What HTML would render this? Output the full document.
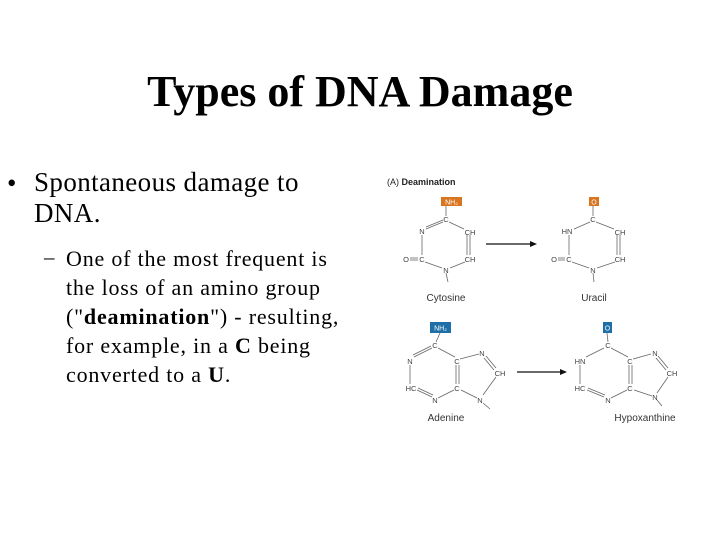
<!DOCTYPE html>
<html><head><style>
body{margin:0;width:720px;height:540px;background:#fff;position:relative;overflow:hidden;font-family:"Liberation Serif",serif;}
.t{position:absolute;white-space:nowrap;color:#000;}
</style></head><body>
<div class="t" style="left:0;width:720px;text-align:center;top:66px;font-size:44px;font-weight:bold;">Types of DNA Damage</div>
<div class="t" style="left:7px;top:168px;font-size:27px;">•</div>
<div class="t" style="left:34px;top:167px;font-size:27px;line-height:31px;letter-spacing:0.4px;">Spontaneous damage to<br>DNA.</div>
<div class="t" style="left:44px;top:245px;font-size:21px;">–</div>
<div class="t" style="left:66px;top:244px;font-size:22px;line-height:29px;letter-spacing:0.8px;">One of the most frequent is<br>the loss of an amino group<br>("<b>deamination</b>") - resulting,<br>for example, in a <b>C</b> being<br>converted to a <b>U</b>.</div>
<svg style="position:absolute;left:0;top:0" width="720" height="540" font-family="Liberation Sans,sans-serif" font-size="8" fill="#444">
<text x="387" y="185" font-size="9" fill="#222">(A) <tspan font-weight="bold">Deamination</tspan></text>
<g stroke="#666" stroke-width="0.8" fill="none">
<line x1="446" y1="206" x2="446" y2="216"/>
<line x1="443" y1="222" x2="426" y2="229"/><line x1="443" y1="220" x2="426" y2="227"/>
<line x1="449" y1="222" x2="464" y2="229"/>
<line x1="467" y1="235" x2="467" y2="255"/><line x1="470" y1="235" x2="470" y2="255"/>
<line x1="422" y1="235" x2="422" y2="255"/>
<line x1="425" y1="262" x2="442" y2="268"/><line x1="465" y1="262" x2="450" y2="268"/>
<line x1="446" y1="273" x2="448" y2="282"/>
<line x1="410" y1="258" x2="418" y2="258"/><line x1="410" y1="260" x2="418" y2="260"/>
<line x1="593" y1="206" x2="593" y2="216"/>
<line x1="590" y1="222" x2="574" y2="229"/>
<line x1="596" y1="222" x2="614" y2="229"/>
<line x1="617" y1="235" x2="617" y2="255"/><line x1="620" y1="235" x2="620" y2="255"/>
<line x1="569" y1="235" x2="569" y2="255"/>
<line x1="572" y1="262" x2="589" y2="268"/><line x1="615" y1="262" x2="597" y2="268"/>
<line x1="593" y1="273" x2="594" y2="282"/>
<line x1="558" y1="258" x2="565" y2="258"/><line x1="558" y1="260" x2="565" y2="260"/>
<line x1="440" y1="333" x2="436" y2="342"/>
<line x1="432" y1="348" x2="414" y2="357"/><line x1="431" y1="346" x2="413" y2="355"/>
<line x1="438" y1="348" x2="455" y2="357"/>
<line x1="410" y1="365" x2="410" y2="384"/>
<line x1="417" y1="390" x2="432" y2="397"/><line x1="418" y1="388" x2="433" y2="395"/>
<line x1="438" y1="398" x2="454" y2="390"/>
<line x1="456" y1="365" x2="456" y2="384"/><line x1="459" y1="365" x2="459" y2="384"/>
<line x1="460" y1="359" x2="479" y2="354"/>
<line x1="486" y1="356" x2="496" y2="368"/><line x1="484" y1="358" x2="494" y2="370"/>
<line x1="496" y1="377" x2="483" y2="395"/>
<line x1="461" y1="390" x2="477" y2="398"/>
<line x1="483" y1="403" x2="490" y2="409"/>
<line x1="607" y1="333" x2="608" y2="342"/>
<line x1="604" y1="348" x2="586" y2="357"/>
<line x1="611" y1="348" x2="628" y2="357"/>
<line x1="580" y1="365" x2="580" y2="384"/>
<line x1="587" y1="390" x2="604" y2="397"/><line x1="588" y1="388" x2="605" y2="395"/>
<line x1="611" y1="398" x2="627" y2="390"/>
<line x1="629" y1="365" x2="629" y2="384"/><line x1="632" y1="365" x2="632" y2="384"/>
<line x1="633" y1="359" x2="651" y2="354"/>
<line x1="658" y1="356" x2="668" y2="368"/><line x1="656" y1="358" x2="666" y2="370"/>
<line x1="668" y1="377" x2="657" y2="393"/>
<line x1="634" y1="390" x2="652" y2="396"/>
<line x1="657" y1="400" x2="662" y2="406"/>
</g>
<g stroke="#111" stroke-width="1.2"><line x1="486" y1="244" x2="532" y2="244"/><line x1="517" y1="372" x2="562" y2="372"/></g>
<polygon points="537,244 530,241 530,247" fill="#111"/><polygon points="567,372 560,369 560,375" fill="#111"/>
<rect x="441" y="197" width="21" height="9" fill="#d9741f"/><text x="451.5" y="204.5" text-anchor="middle" fill="#fff" font-size="7">NH₂</text>
<rect x="589" y="197" width="10" height="9" fill="#d9741f"/><text x="594" y="204.5" text-anchor="middle" fill="#fff" font-size="7">O</text>
<rect x="430" y="322" width="21" height="11" fill="#1e6fa8"/><text x="440.5" y="330.5" text-anchor="middle" fill="#fff" font-size="7">NH₂</text>
<rect x="603" y="322" width="9" height="11" fill="#1e6fa8"/><text x="607.5" y="330.5" text-anchor="middle" fill="#fff" font-size="7">O</text>
<g text-anchor="middle" font-size="7.5">
<text x="446" y="222">C</text><text x="422" y="234">N</text><text x="470" y="235">CH</text><text x="470" y="262">CH</text><text x="406" y="262">O</text><text x="422" y="262">C</text><text x="446" y="273">N</text>
<text x="593" y="222">C</text><text x="567" y="234">HN</text><text x="620" y="235">CH</text><text x="620" y="262">CH</text><text x="554" y="262">O</text><text x="569" y="262">C</text><text x="593" y="273">N</text>
<text x="435" y="348">C</text><text x="410" y="364">N</text><text x="411" y="391">HC</text><text x="435" y="403">N</text><text x="457" y="364">C</text><text x="457" y="391">C</text><text x="482" y="356">N</text><text x="500" y="376">CH</text><text x="480" y="403">N</text>
<text x="608" y="348">C</text><text x="580" y="364">HN</text><text x="580" y="391">HC</text><text x="608" y="403">N</text><text x="630" y="364">C</text><text x="630" y="391">C</text><text x="655" y="356">N</text><text x="672" y="376">CH</text><text x="655" y="400">N</text>
</g>
<g text-anchor="middle" font-size="10" fill="#333">
<text x="446" y="301">Cytosine</text><text x="594" y="301">Uracil</text><text x="446" y="421">Adenine</text><text x="645" y="421">Hypoxanthine</text>
</g>
</svg>
</body></html>
